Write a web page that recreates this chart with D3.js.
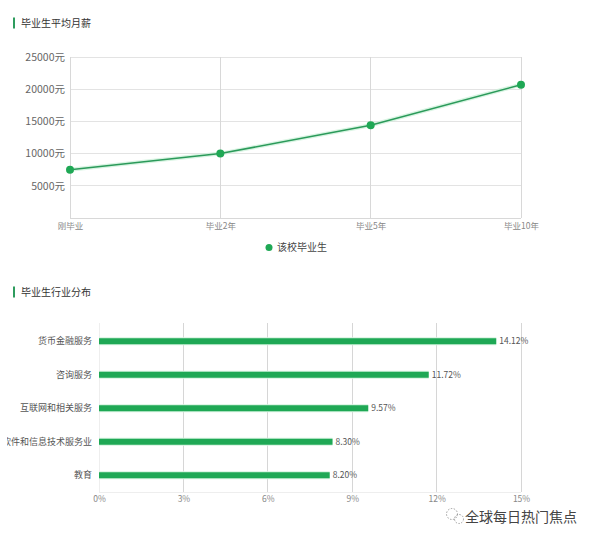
<!DOCTYPE html>
<html>
<head>
<meta charset="utf-8">
<script src="https://cdn.jsdelivr.net/npm/d3@7"></script>
<style>
html,body{margin:0;padding:0;background:#fff;}
svg{display:block;font-family:"Noto Sans CJK SC","Noto Sans",sans-serif;}
</style>
</head>
<body>
<svg id="c" width="595" height="538"></svg>
<script>
// ---- data ----
const salaryCategories = ["刚毕业", "毕业2年", "毕业5年", "毕业10年"];
const salaryValues = [7500, 10000, 14400, 20700];
const salaryTicks = [5000, 10000, 15000, 20000, 25000];
const salarySeriesName = "该校毕业生";

const industryCategories = ["货币金融服务", "咨询服务", "互联网和相关服务", "软件和信息技术服务业", "教育"];
const industryValues = [14.12, 11.72, 9.57, 8.30, 8.20];
const industryTicks = [0, 3, 6, 9, 12, 15];

const title1 = "毕业生平均月薪";
const title2 = "毕业生行业分布";
const watermark = "全球每日热门焦点";

// ---- drawing ----
const svg = d3.select("#c");
const green = "#1fa855";
const gridColor = "#e3e3e3";

function sectionTitle(y, text) {
  svg.append("rect").attr("x", 13).attr("y", y - 5.5).attr("width", 2).attr("height", 11).attr("fill", "#2e9c5e");
  svg.append("text").attr("x", 21).attr("y", y).attr("dy", "0.35em")
    .attr("font-size", 10).attr("fill", "#333").text(text);
}
sectionTitle(23, title1);
sectionTitle(292, title2);

// Line chart
const x1 = d3.scalePoint().domain(salaryCategories).range([70, 521]);
const y1 = d3.scaleLinear().domain([0, 25000]).range([218, 57]);

const g1 = svg.append("g");
g1.selectAll("line.h").data(salaryTicks).join("line")
  .attr("x1", 70).attr("x2", 521)
  .attr("y1", d => y1(d)).attr("y2", d => y1(d))
  .attr("stroke", gridColor).attr("stroke-width", 1).attr("shape-rendering", "crispEdges");
g1.selectAll("line.v").data(salaryCategories).join("line")
  .attr("x1", d => x1(d)).attr("x2", d => x1(d))
  .attr("y1", y1(25000)).attr("y2", y1(0))
  .attr("stroke", "#d8d8d8").attr("stroke-width", 1).attr("shape-rendering", "crispEdges");
g1.append("line").attr("x1", 70).attr("x2", 521).attr("y1", y1(0)).attr("y2", y1(0))
  .attr("stroke", "#d8d8d8").attr("shape-rendering", "crispEdges");

const yAxis1 = d3.axisLeft(y1).tickValues(salaryTicks).tickFormat(d => d + "元").tickSize(0).tickPadding(5);
const ya = svg.append("g").attr("transform", "translate(70,0)").call(yAxis1);
ya.select(".domain").remove();
ya.selectAll("text").attr("font-size", 10.5).attr("fill", "#666").attr("font-family", "'Noto Sans CJK SC',sans-serif");

const xAxis1 = d3.axisBottom(x1).tickSize(0).tickPadding(5);
const xa = svg.append("g").attr("transform", `translate(0,${y1(0)})`).call(xAxis1);
xa.select(".domain").remove();
xa.selectAll("text").attr("font-size", 8.5).attr("fill", "#888").attr("font-family", "'Noto Sans CJK SC',sans-serif");

const lineGen = d3.line().x((d, i) => x1(salaryCategories[i])).y(d => y1(d));
g1.append("path").datum(salaryValues).attr("d", lineGen)
  .attr("fill", "none").attr("stroke", "#c8f0d6").attr("stroke-width", 4).attr("stroke-opacity", 0.7);
g1.append("path").datum(salaryValues).attr("d", lineGen)
  .attr("fill", "none").attr("stroke", "#2b9a5a").attr("stroke-width", 1.5);
g1.selectAll("circle.pt").data(salaryValues).join("circle")
  .attr("cx", (d, i) => x1(salaryCategories[i])).attr("cy", d => y1(d)).attr("r", 4)
  .attr("fill", green);

svg.append("circle").attr("cx", 269).attr("cy", 247.5).attr("r", 3.5).attr("fill", green);
svg.append("text").attr("x", 277).attr("y", 247.5).attr("dy", "0.35em")
  .attr("font-size", 10).attr("fill", "#444").text(salarySeriesName);

// Bar chart
const x2 = d3.scaleLinear().domain([0, 15]).range([99, 521]);
const y2 = d3.scaleBand().domain(industryCategories).range([324.5, 492]);
const g2 = svg.append("g");
g2.selectAll("line.v").data(industryTicks).join("line")
  .attr("x1", d => x2(d)).attr("x2", d => x2(d))
  .attr("y1", 323).attr("y2", 492)
  .attr("stroke", (d, i) => i === 0 ? "#eeeeee" : "#d6d6d6").attr("shape-rendering", "crispEdges");
g2.append("line").attr("x1", 99).attr("x2", 521).attr("y1", 492).attr("y2", 492)
  .attr("stroke", "#eeeeee").attr("shape-rendering", "crispEdges");

const barH = 6;
g2.selectAll("rect.glow").data(industryValues).join("rect")
  .attr("x", x2(0)).attr("y", (d, i) => y2(industryCategories[i]) + y2.bandwidth() / 2 - barH / 2 - 1)
  .attr("width", d => x2(d) - x2(0)).attr("height", barH + 2).attr("fill", "#d6f4e0");
g2.selectAll("rect.bar").data(industryValues).join("rect")
  .attr("x", x2(0)).attr("y", (d, i) => y2(industryCategories[i]) + y2.bandwidth() / 2 - barH / 2)
  .attr("width", d => x2(d) - x2(0)).attr("height", barH).attr("fill", green);
g2.selectAll("text.val").data(industryValues).join("text")
  .attr("x", d => x2(d) + 3).attr("y", (d, i) => y2(industryCategories[i]) + y2.bandwidth() / 2)
  .attr("dy", "0.35em").attr("font-size", 8.5).attr("fill", "#555")
  .text(d => d.toFixed(2) + "%");

// category labels (clipped at left edge like the reference)
svg.append("clipPath").attr("id", "lc").append("rect").attr("x", 7).attr("y", 300).attr("width", 100).attr("height", 200);
const yAxis2 = d3.axisLeft(y2).tickSize(0).tickPadding(7);
const ya2 = svg.append("g").attr("clip-path", "url(#lc)").append("g").attr("transform", "translate(99,0)").call(yAxis2);
ya2.select(".domain").remove();
ya2.selectAll("text").attr("font-size", 9).attr("fill", "#555").attr("font-family", "'Noto Sans CJK SC',sans-serif");

const xAxis2 = d3.axisBottom(x2).tickValues(industryTicks).tickFormat(d => d + "%").tickSize(0).tickPadding(4);
const xa2 = svg.append("g").attr("transform", "translate(0,492)").call(xAxis2);
xa2.select(".domain").remove();
xa2.selectAll("text").attr("font-size", 8.5).attr("fill", "#888").attr("font-family", "'Noto Sans CJK SC',sans-serif");

// watermark
const wm = svg.append("g");
wm.append("circle").attr("cx", 452).attr("cy", 514).attr("r", 5.5).attr("fill", "none")
  .attr("stroke", "#888").attr("stroke-dasharray", "1.5,1.5").attr("stroke-width", 0.8);
wm.append("circle").attr("cx", 459).attr("cy", 519).attr("r", 4.5).attr("fill", "none")
  .attr("stroke", "#888").attr("stroke-dasharray", "1.5,1.5").attr("stroke-width", 0.8);
wm.append("text").attr("x", 465).attr("y", 517).attr("dy", "0.35em")
  .attr("font-size", 14).attr("fill", "#444").attr("stroke", "#fff").attr("stroke-width", 2)
  .attr("paint-order", "stroke").text(watermark);
</script>
</body>
</html>
